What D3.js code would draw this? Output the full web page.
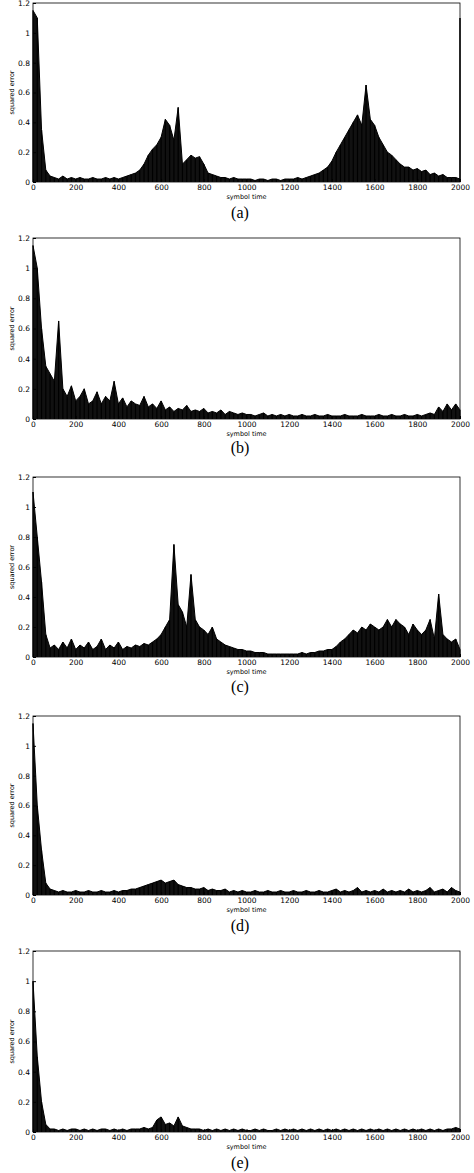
<!DOCTYPE html>
<html><head><meta charset="utf-8">
<script src="https://cdn.jsdelivr.net/npm/d3@7"></script>
<style>body{margin:0;background:#fff}</style>
</head><body>
<div id="chart"></div>
<script>
// symbol time sampled every 20 symbols (0..2000)
const xTicks = [0, 200, 400, 600, 800, 1000, 1200, 1400, 1600, 1800, 2000];
const yTicks = [0, 0.2, 0.4, 0.6, 0.8, 1, 1.2];
const captions = ["(a)", "(b)", "(c)", "(d)", "(e)"];

const errA = [1.15,1.1,0.35,0.08,0.04,0.03,0.02,0.04,0.02,0.03,0.02,0.03,0.02,0.02,0.03,0.02,0.02,0.03,0.02,0.03,0.02,0.03,0.04,0.05,0.06,0.08,0.12,0.18,0.22,0.25,0.3,0.42,0.38,0.28,0.5,0.12,0.15,0.18,0.16,0.17,0.12,0.06,0.05,0.04,0.03,0.03,0.02,0.03,0.02,0.02,0.02,0.02,0.01,0.02,0.02,0.01,0.02,0.02,0.01,0.02,0.02,0.02,0.03,0.02,0.03,0.04,0.05,0.06,0.08,0.1,0.14,0.2,0.25,0.3,0.35,0.4,0.45,0.38,0.65,0.42,0.38,0.3,0.25,0.2,0.18,0.15,0.12,0.1,0.1,0.08,0.09,0.07,0.08,0.05,0.06,0.04,0.05,0.03,0.03,0.03,0.02];
const errB = [1.15,1.0,0.6,0.35,0.3,0.25,0.65,0.2,0.15,0.22,0.12,0.15,0.2,0.1,0.12,0.18,0.1,0.15,0.12,0.25,0.1,0.14,0.08,0.12,0.1,0.09,0.15,0.08,0.1,0.07,0.12,0.06,0.08,0.05,0.07,0.06,0.09,0.05,0.06,0.05,0.07,0.04,0.05,0.04,0.06,0.03,0.05,0.04,0.03,0.04,0.03,0.03,0.02,0.03,0.04,0.02,0.03,0.02,0.03,0.02,0.03,0.02,0.02,0.03,0.02,0.02,0.03,0.02,0.02,0.03,0.02,0.02,0.02,0.03,0.02,0.02,0.02,0.03,0.02,0.02,0.02,0.03,0.02,0.02,0.03,0.02,0.02,0.03,0.02,0.02,0.03,0.02,0.03,0.04,0.03,0.08,0.05,0.1,0.06,0.1,0.06];
const errC = [1.1,0.8,0.5,0.15,0.06,0.08,0.05,0.1,0.06,0.12,0.05,0.08,0.06,0.1,0.05,0.07,0.12,0.05,0.08,0.06,0.1,0.05,0.07,0.06,0.08,0.07,0.09,0.08,0.1,0.12,0.15,0.2,0.25,0.75,0.35,0.3,0.2,0.55,0.25,0.2,0.18,0.15,0.2,0.12,0.1,0.08,0.07,0.06,0.05,0.05,0.04,0.04,0.03,0.03,0.03,0.02,0.02,0.02,0.02,0.02,0.02,0.02,0.02,0.03,0.02,0.03,0.03,0.04,0.04,0.05,0.05,0.07,0.1,0.12,0.15,0.18,0.16,0.2,0.18,0.22,0.2,0.18,0.2,0.25,0.2,0.25,0.22,0.2,0.15,0.22,0.18,0.15,0.18,0.25,0.12,0.42,0.15,0.12,0.1,0.12,0.05];
const errD = [1.15,0.6,0.3,0.08,0.04,0.03,0.02,0.03,0.02,0.02,0.03,0.02,0.02,0.03,0.02,0.02,0.03,0.02,0.02,0.03,0.02,0.03,0.03,0.04,0.04,0.05,0.06,0.07,0.08,0.09,0.1,0.08,0.09,0.1,0.07,0.06,0.05,0.05,0.04,0.04,0.05,0.03,0.04,0.03,0.03,0.04,0.02,0.03,0.02,0.03,0.02,0.02,0.03,0.02,0.02,0.03,0.02,0.02,0.03,0.02,0.02,0.03,0.02,0.02,0.03,0.02,0.02,0.03,0.02,0.02,0.03,0.04,0.02,0.03,0.02,0.03,0.05,0.02,0.03,0.02,0.03,0.02,0.04,0.02,0.03,0.02,0.03,0.02,0.04,0.02,0.03,0.02,0.03,0.05,0.02,0.03,0.04,0.02,0.05,0.03,0.02];
const errE = [1.0,0.5,0.2,0.05,0.02,0.02,0.01,0.02,0.01,0.02,0.02,0.01,0.02,0.01,0.02,0.01,0.02,0.02,0.01,0.02,0.01,0.02,0.01,0.02,0.02,0.02,0.03,0.02,0.03,0.08,0.1,0.05,0.06,0.04,0.1,0.04,0.03,0.02,0.02,0.02,0.01,0.02,0.01,0.02,0.01,0.02,0.01,0.02,0.01,0.02,0.01,0.01,0.02,0.01,0.02,0.01,0.01,0.02,0.01,0.02,0.01,0.02,0.01,0.02,0.01,0.02,0.01,0.02,0.01,0.02,0.01,0.02,0.01,0.02,0.01,0.02,0.01,0.02,0.01,0.02,0.01,0.02,0.01,0.02,0.01,0.02,0.01,0.02,0.01,0.02,0.01,0.02,0.01,0.02,0.01,0.02,0.01,0.02,0.02,0.03,0.02];
const series = [errA, errB, errC, errD, errE];

const panels = [
  {top: 3, bottom: 182, cap: 212},
  {top: 238, bottom: 419, cap: 447},
  {top: 477, bottom: 657, cap: 686},
  {top: 716, bottom: 895, cap: 925},
  {top: 951, bottom: 1132, cap: 1162}
];

const svg = d3.select("#chart").append("svg")
    .attr("width", 474).attr("height", 1173);

const x = d3.scaleLinear().domain([0, 2000]).range([33, 460]);

panels.forEach((p, k) => {
    const y = d3.scaleLinear().domain([0, 1.2]).range([p.bottom, p.top]);
    const g = svg.append("g");
    const data = series[k].map((v, i) => [i * 20, v]);

    // frame
    g.append("rect").attr("x", x(0)).attr("y", p.top)
        .attr("width", x(2000) - x(0)).attr("height", p.bottom - p.top)
        .attr("fill", "none").attr("stroke", "#000").attr("stroke-width", 0.8);

    // filled trace (dense noisy error)
    g.append("path").datum(data)
        .attr("d", d3.area().x(d => x(d[0])).y0(y(0)).y1(d => y(d[1])))
        .attr("fill", "#111");
    g.selectAll(".stem").data(data).join("line")
        .attr("x1", d => x(d[0])).attr("x2", d => x(d[0]))
        .attr("y1", y(0)).attr("y2", d => y(d[1]))
        .attr("stroke", "#000").attr("stroke-width", 1.2);
    g.append("path").datum(data)
        .attr("d", d3.line().x(d => x(d[0])).y(d => y(d[1])))
        .attr("fill", "none").attr("stroke", "#000").attr("stroke-width", 1);
    if (k === 0) {
        g.append("line").attr("x1", x(2000)).attr("x2", x(2000))
            .attr("y1", y(0)).attr("y2", y(1.1)).attr("stroke", "#000").attr("stroke-width", 1.5);
    }

    g.append("g").attr("transform", `translate(0,${p.bottom})`)
        .call(d3.axisBottom(x).tickValues(xTicks).tickSize(-3).tickPadding(3).tickFormat(d3.format("d")))
        .call(a => a.select(".domain").remove())
        .selectAll("text").attr("font-size", 7.5).attr("font-family", "DejaVu Sans");
    g.append("g").attr("transform", `translate(${x(0)},0)`)
        .call(d3.axisLeft(y).tickValues(yTicks).tickSize(-3).tickPadding(3).tickFormat(d3.format("~g")))
        .call(a => a.select(".domain").remove())
        .selectAll("text").attr("font-size", 7.5).attr("font-family", "DejaVu Sans");

    g.append("text").attr("x", (x(0) + x(2000)) / 2).attr("y", p.bottom + 17)
        .attr("text-anchor", "middle").attr("font-size", 6.5).attr("font-family", "DejaVu Sans")
        .text("symbol time");
    g.append("text").attr("transform", `translate(14,${(p.top + p.bottom) / 2}) rotate(-90)`)
        .attr("text-anchor", "middle").attr("font-size", 6.5).attr("font-family", "DejaVu Sans")
        .text("squared error");
    g.append("text").attr("x", 240).attr("y", p.cap + 6)
        .attr("text-anchor", "middle").attr("font-size", 16).attr("font-family", "Liberation Serif")
        .text(captions[k]);
});
</script>
</body></html>
